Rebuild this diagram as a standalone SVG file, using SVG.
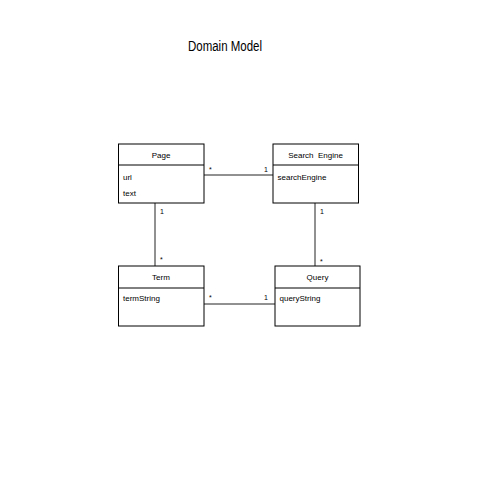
<svg xmlns="http://www.w3.org/2000/svg" width="480" height="480" viewBox="0 0 480 480">
<style>
.box{fill:#fff;stroke:#000;stroke-width:1}
.t{font-family:"Liberation Sans",Arial,sans-serif;font-size:8px;fill:#000}
.m{font-family:"Liberation Sans",Arial,sans-serif;font-size:7px;fill:#000}
.c{text-anchor:middle}
.conn{stroke:#222;stroke-width:1;fill:none}
</style>
<rect width="480" height="480" fill="#fff"/>
<text x="225" y="51" text-anchor="middle" font-family="'Liberation Sans',Arial,sans-serif" font-size="14" textLength="74" lengthAdjust="spacingAndGlyphs">Domain Model</text>
<g id="connectors">
<line class="conn" x1="204" y1="175" x2="273" y2="175"/>
<line class="conn" x1="155" y1="203" x2="155" y2="266"/>
<line class="conn" x1="315" y1="203" x2="315" y2="266"/>
<line class="conn" x1="204" y1="304" x2="275" y2="304"/>
<text class="m" x="209" y="172">*</text>
<text class="m" x="264" y="172">1</text>
<text class="m" x="160" y="214">1</text>
<text class="m" x="160" y="262">*</text>
<text class="m" x="320" y="214">1</text>
<text class="m" x="320" y="264">*</text>
<text class="m" x="209" y="300">*</text>
<text class="m" x="264" y="300">1</text>
</g>
<g id="page">
<rect class="box" x="118.5" y="144" width="85.5" height="59"/>
<line stroke="#000" x1="118.5" y1="165" x2="204" y2="165"/>
<text class="t c" x="161" y="158">Page</text>
<text class="t" x="123" y="180">url</text>
<text class="t" x="123" y="196">text</text>
</g>
<g id="search-engine">
<rect class="box" x="273" y="144" width="85.5" height="59"/>
<line stroke="#000" x1="273" y1="165" x2="358.5" y2="165"/>
<text class="t c" x="315.5" y="158" xml:space="preserve" style="white-space:pre">Search  Engine</text>
<text class="t" x="277.5" y="180">searchEngine</text>
</g>
<g id="term">
<rect class="box" x="118.5" y="266" width="85.5" height="60"/>
<line stroke="#000" x1="118.5" y1="288" x2="204" y2="288"/>
<text class="t c" x="161" y="280">Term</text>
<text class="t" x="123" y="301">termString</text>
</g>
<g id="query">
<rect class="box" x="275" y="266" width="85" height="60"/>
<line stroke="#000" x1="275" y1="288" x2="360" y2="288"/>
<text class="t c" x="317.5" y="280">Query</text>
<text class="t" x="279.5" y="301">queryString</text>
</g>
</svg>
